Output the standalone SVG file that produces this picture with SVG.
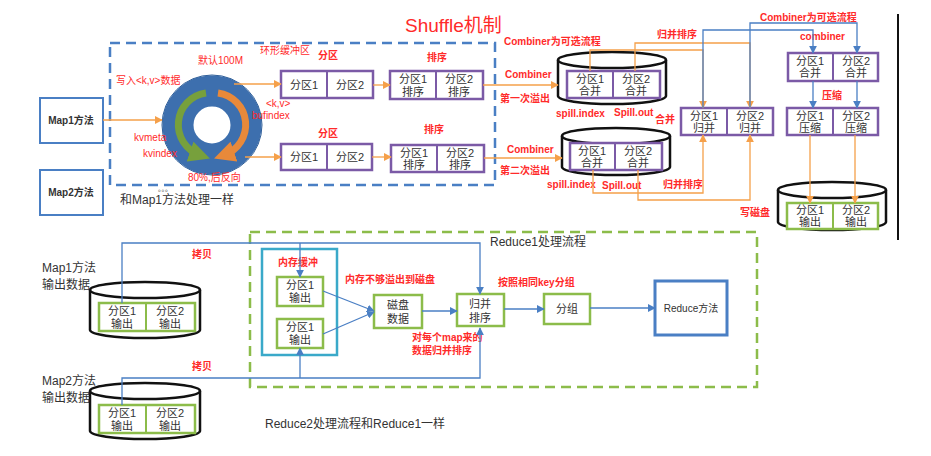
<svg xmlns="http://www.w3.org/2000/svg" width="931" height="456" viewBox="0 0 931 456">
<defs>
<marker id="ao" viewBox="0 0 10 10" refX="9" refY="5" markerWidth="6" markerHeight="6" orient="auto"><path d="M0,0L10,5L0,10z" fill="#f5a04a"/></marker>
<marker id="ab" viewBox="0 0 10 10" refX="9" refY="5" markerWidth="6" markerHeight="6" orient="auto"><path d="M0,0L10,5L0,10z" fill="#4a7fc4"/></marker>
<marker id="ar" viewBox="0 0 10 10" refX="5" refY="5" markerWidth="3" markerHeight="3" orient="auto"><path d="M0,0L10,5L0,10z" fill="#e8893a"/></marker>
<marker id="agr" viewBox="0 0 10 10" refX="5" refY="5" markerWidth="3" markerHeight="3" orient="auto"><path d="M0,0L10,5L0,10z" fill="#77a03c"/></marker>
</defs>
<style>
text{font-family:"Liberation Sans","Noto Sans CJK SC",sans-serif;font-size:11px;fill:#333}
.r{fill:#ff2a2a;font-weight:bold;font-size:10px}
.c{text-anchor:middle}
.p{fill:#fff;stroke:#7b5aa6;stroke-width:2.5}
.g{fill:#fff;stroke:#8cbc4a;stroke-width:2.5}
.mb{fill:#fff;stroke:#4a7fc4;stroke-width:2}
.o{fill:none;stroke:#f5a04a;stroke-width:1.3}
.b{fill:none;stroke:#4a7fc4;stroke-width:1.3}
.cy{fill:#fff;stroke:#111;stroke-width:2.5}
</style>
<rect width="931" height="456" fill="#fff"/>
<line x1="898" y1="14" x2="898" y2="240" stroke="#111" stroke-width="2"/>
<text x="405" y="32" style="font-size:19px;fill:#ff2a2a">Shuffle机制</text>
<rect x="110" y="43" width="385" height="142" fill="none" stroke="#4a7fc4" stroke-width="2.5" stroke-dasharray="10,6"/>
<rect x="250" y="232" width="507" height="155" fill="none" stroke="#8cbc4a" stroke-width="2.5" stroke-dasharray="10,6"/>

<g id="map1"><rect class="mb" x="40" y="98" width="63" height="45"/><text x="71" y="124" class="c" style="font-size:10px;font-weight:bold">Map1方法</text></g>
<g id="map2"><rect class="mb" x="40" y="170" width="63" height="45"/><text x="71" y="196" class="c" style="font-size:10px;font-weight:bold">Map2方法</text></g>
<g id="ring">
<circle cx="212" cy="125" r="34" fill="none" stroke="#3d6fae" stroke-width="31"/>
<circle cx="212" cy="125" r="50" fill="none" stroke="#2f5f9a" stroke-width="1"/>
<path d="M206,93 A32,32 0 0 0 200,155" fill="none" stroke="#77a03c" stroke-width="7" marker-end="url(#agr)"/>
<path d="M218,93 A32,32 0 0 1 224,155" fill="none" stroke="#e8893a" stroke-width="7" marker-end="url(#ar)"/>
</g>
<text x="198" y="64" class="r" style="font-weight:normal">默认100M</text>
<text x="260" y="54" class="r" style="font-weight:normal">环形缓冲区</text>
<text x="116" y="84" class="r" style="font-weight:normal">写入&lt;k,v&gt;数据</text>
<text x="266" y="107" class="r" style="font-weight:normal">&lt;k,v&gt;</text>
<text x="252" y="119" class="r" style="font-weight:normal">bufindex</text>
<text x="134" y="141" class="r" style="font-weight:normal">kvmeta</text>
<text x="143" y="157" class="r" style="font-weight:normal">kvindex</text>
<text x="188" y="181" class="r" style="font-weight:normal">80%,后反向</text>
<text x="158" y="191" style="font-size:7px">。。。</text>
<text x="120" y="204" style="font-size:12px">和Map1方法处理一样</text>

<g id="part1"><rect class="p" x="281" y="71" width="92" height="27"/><line x1="327" y1="71" x2="327" y2="98" stroke="#7b5aa6" stroke-width="2"/><text x="304" y="89" class="c">分区1</text><text x="350" y="89" class="c">分区2</text></g>
<text x="328" y="59" class="r c">分区</text>
<g id="sort1"><rect class="p" x="390" y="71" width="93" height="28"/><line x1="436" y1="71" x2="436" y2="99" stroke="#7b5aa6" stroke-width="2"/><text x="413" y="83" class="c">分区1</text><text x="413" y="96" class="c">排序</text><text x="459" y="83" class="c">分区2</text><text x="459" y="96" class="c">排序</text></g>
<text x="437" y="61" class="r c">排序</text>
<g id="part2"><rect class="p" x="281" y="144" width="91" height="26"/><line x1="327" y1="144" x2="327" y2="170" stroke="#7b5aa6" stroke-width="2"/><text x="304" y="161" class="c">分区1</text><text x="350" y="161" class="c">分区2</text></g>
<text x="328" y="137" class="r c">分区</text>
<g id="sort2"><rect class="p" x="391" y="145" width="93" height="27"/><line x1="437" y1="145" x2="437" y2="172" stroke="#7b5aa6" stroke-width="2"/><text x="414" y="157" class="c">分区1</text><text x="414" y="169" class="c">排序</text><text x="460" y="157" class="c">分区2</text><text x="460" y="169" class="c">排序</text></g>
<text x="434" y="133" class="r c">排序</text>

<g id="spill1"><path class="cy" d="M558,60 L558,96 A54,8 0 0 0 666,96 L666,60"/><ellipse class="cy" cx="612" cy="60" rx="54" ry="8"/>
<rect class="p" x="567" y="71" width="93" height="27"/><line x1="613" y1="71" x2="613" y2="98" stroke="#7b5aa6" stroke-width="2"/><text x="590" y="83" class="c">分区1</text><text x="590" y="95" class="c">合并</text><text x="636" y="83" class="c">分区2</text><text x="636" y="95" class="c">合并</text></g>
<g id="spill2"><path class="cy" d="M562,136 L562,167 A54,8 0 0 0 670,167 L670,136"/><ellipse class="cy" cx="616" cy="136" rx="54" ry="8"/>
<rect class="p" x="570" y="143" width="92" height="27"/><line x1="615" y1="143" x2="615" y2="170" stroke="#7b5aa6" stroke-width="2"/><text x="592" y="155" class="c">分区1</text><text x="592" y="167" class="c">合并</text><text x="638" y="155" class="c">分区2</text><text x="638" y="167" class="c">合并</text></g>
<g id="merge"><rect class="p" x="681" y="108" width="92" height="27"/><line x1="727" y1="108" x2="727" y2="135" stroke="#7b5aa6" stroke-width="2"/><text x="704" y="120" class="c">分区1</text><text x="704" y="132" class="c">归并</text><text x="750" y="120" class="c">分区2</text><text x="750" y="132" class="c">归并</text></g>
<g id="comb"><rect class="p" x="788" y="53" width="90" height="28"/><line x1="833" y1="53" x2="833" y2="81" stroke="#7b5aa6" stroke-width="2"/><text x="810" y="65" class="c">分区1</text><text x="810" y="77" class="c">合并</text><text x="856" y="65" class="c">分区2</text><text x="856" y="77" class="c">合并</text></g>
<g id="compress"><rect class="p" x="787" y="108" width="91" height="27"/><line x1="833" y1="108" x2="833" y2="135" stroke="#7b5aa6" stroke-width="2"/><text x="810" y="120" class="c">分区1</text><text x="810" y="132" class="c">压缩</text><text x="856" y="120" class="c">分区2</text><text x="856" y="132" class="c">压缩</text></g>
<g id="out"><path class="cy" d="M778,190 L778,222 A54,8 0 0 0 886,222 L886,190"/><ellipse class="cy" cx="832" cy="190" rx="54" ry="8"/>
<rect class="g" x="787" y="203" width="91" height="26"/><line x1="833" y1="203" x2="833" y2="229" stroke="#8cbc4a" stroke-width="2"/><text x="810" y="214" class="c">分区1</text><text x="810" y="226" class="c">输出</text><text x="856" y="214" class="c">分区2</text><text x="856" y="226" class="c">输出</text></g>

<text x="504" y="45" class="r">Combiner为可选流程</text>
<text x="505" y="78" class="r">Combiner</text>
<text x="500" y="102" class="r">第一次溢出</text>
<text x="556" y="117" class="r">spill.index</text>
<text x="614" y="116" class="r">Spill.out</text>
<text x="655" y="123" class="r">合并</text>
<text x="507" y="153" class="r">Combiner</text>
<text x="500" y="174" class="r">第二次溢出</text>
<text x="547" y="188" class="r">spill.index</text>
<text x="602" y="189" class="r">Spill.out</text>
<text x="663" y="188" class="r">归并排序</text>
<text x="657" y="38" class="r">归并排序</text>
<text x="740" y="216" class="r">写磁盘</text>
<text x="760" y="21" class="r">Combiner为可选流程</text>
<text x="800" y="40" class="r">combiner</text>
<text x="822" y="99" class="r">压缩</text>

<g id="bm1"><path class="cy" d="M90,290 L90,330 A55,8 0 0 0 200,330 L200,290"/><ellipse class="cy" cx="145" cy="290" rx="55" ry="8"/>
<rect class="g" x="99" y="303" width="96" height="28"/><line x1="146" y1="303" x2="146" y2="331" stroke="#8cbc4a" stroke-width="2"/><text x="122" y="315" class="c">分区1</text><text x="122" y="328" class="c">输出</text><text x="170" y="315" class="c">分区2</text><text x="170" y="328" class="c">输出</text></g>
<g id="bm2"><path class="cy" d="M90,391 L90,431 A55,8 0 0 0 200,431 L200,391"/><ellipse class="cy" cx="145" cy="391" rx="55" ry="8"/>
<rect class="g" x="99" y="405" width="96" height="28"/><line x1="146" y1="405" x2="146" y2="433" stroke="#8cbc4a" stroke-width="2"/><text x="122" y="417" class="c">分区1</text><text x="122" y="430" class="c">输出</text><text x="170" y="417" class="c">分区2</text><text x="170" y="430" class="c">输出</text></g>
<text x="42" y="272" style="font-size:12px">Map1方法</text><text x="42" y="289" style="font-size:12px">输出数据</text>
<text x="42" y="385" style="font-size:12px">Map2方法</text><text x="42" y="402" style="font-size:12px">输出数据</text>
<text x="192" y="258" class="r">拷贝</text><text x="192" y="370" class="r">拷贝</text>

<g id="buf"><rect x="262" y="249" width="75" height="106" fill="none" stroke="#3aa9c9" stroke-width="2.5"/><text x="298" y="266" class="r c">内存缓冲</text></g>
<g id="b1"><rect class="g" x="277" y="277" width="46" height="29"/><text x="300" y="289" class="c">分区1</text><text x="300" y="302" class="c">输出</text></g>
<g id="b2"><rect class="g" x="277" y="319" width="46" height="29"/><text x="300" y="331" class="c">分区1</text><text x="300" y="344" class="c">输出</text></g>
<g id="disk"><rect class="g" x="374" y="295" width="48" height="33"/><text x="398" y="309" class="c">磁盘</text><text x="398" y="323" class="c">数据</text></g>
<g id="msort"><rect class="g" x="457" y="294" width="47" height="32"/><text x="480" y="308" class="c">归并</text><text x="480" y="322" class="c">排序</text></g>
<g id="grp"><rect class="g" x="544" y="294" width="46" height="30"/><text x="567" y="313" class="c">分组</text></g>
<g id="reduce"><rect x="655" y="281" width="72" height="54" fill="#fff" stroke="#4a7fc4" stroke-width="3"/><text x="691" y="312" class="c" style="font-size:10px">Reduce方法</text></g>
<text x="345" y="283" class="r">内存不够溢出到磁盘</text>
<text x="498" y="286" class="r">按照相同key分组</text>
<text x="412" y="341" class="r">对每个map来的</text><text x="412" y="354" class="r">数据归并排序</text>
<text x="490" y="246" style="font-size:12px">Reduce1处理流程</text>
<text x="265" y="428" style="font-size:12px">Reduce2处理流程和Reduce1一样</text>

<g id="connectors">
<path class="o" d="M103,120 H162" marker-end="url(#ao)"/>
<path class="o" d="M234,84 H281" marker-end="url(#ao)"/>
<path class="o" d="M245,157 H281" marker-end="url(#ao)"/>
<path class="o" d="M373,85 H390" marker-end="url(#ao)"/>
<path class="o" d="M372,157 H391" marker-end="url(#ao)"/>
<path class="o" d="M483,85 H558" marker-end="url(#ao)"/>
<path class="o" d="M484,158 H562" marker-end="url(#ao)"/>
<path class="o" d="M590,71 V50 H703 V108" marker-end="url(#ao)"/>
<path class="o" d="M635,71 V43 H750 V108" marker-end="url(#ao)"/>
<path class="o" d="M593,170 V193 H703 V135" marker-end="url(#ao)"/>
<path class="o" d="M638,170 V200 H750 V135" marker-end="url(#ao)"/>
<path class="b" d="M703,108 V30 H813 V53" marker-end="url(#ab)"/>
<path class="b" d="M750,108 V23 H857 V53" marker-end="url(#ab)"/>
<path class="b" d="M813,81 V108" marker-end="url(#ab)"/>
<path class="b" d="M857,81 V108" marker-end="url(#ab)"/>
<path class="o" d="M810,135 V203" marker-end="url(#ao)"/>
<path class="o" d="M855,135 V203" marker-end="url(#ao)"/>
<path class="b" d="M122,303 V243 H480 V294" marker-end="url(#ab)"/>
<path class="b" d="M300,243 V277" marker-end="url(#ab)"/>
<path class="b" d="M122,405 V378 H480 V328" marker-end="url(#ab)"/>
<path class="b" d="M300,378 V348" marker-end="url(#ab)"/>
<path class="b" d="M323,291 L374,311" marker-end="url(#ab)"/>
<path class="b" d="M323,334 L374,312" marker-end="url(#ab)"/>
<path class="b" d="M422,311 H457" marker-end="url(#ab)"/>
<path class="b" d="M504,309 H544" marker-end="url(#ab)"/>
<path class="b" d="M590,308 H655" marker-end="url(#ab)"/>
</g>
</svg>
